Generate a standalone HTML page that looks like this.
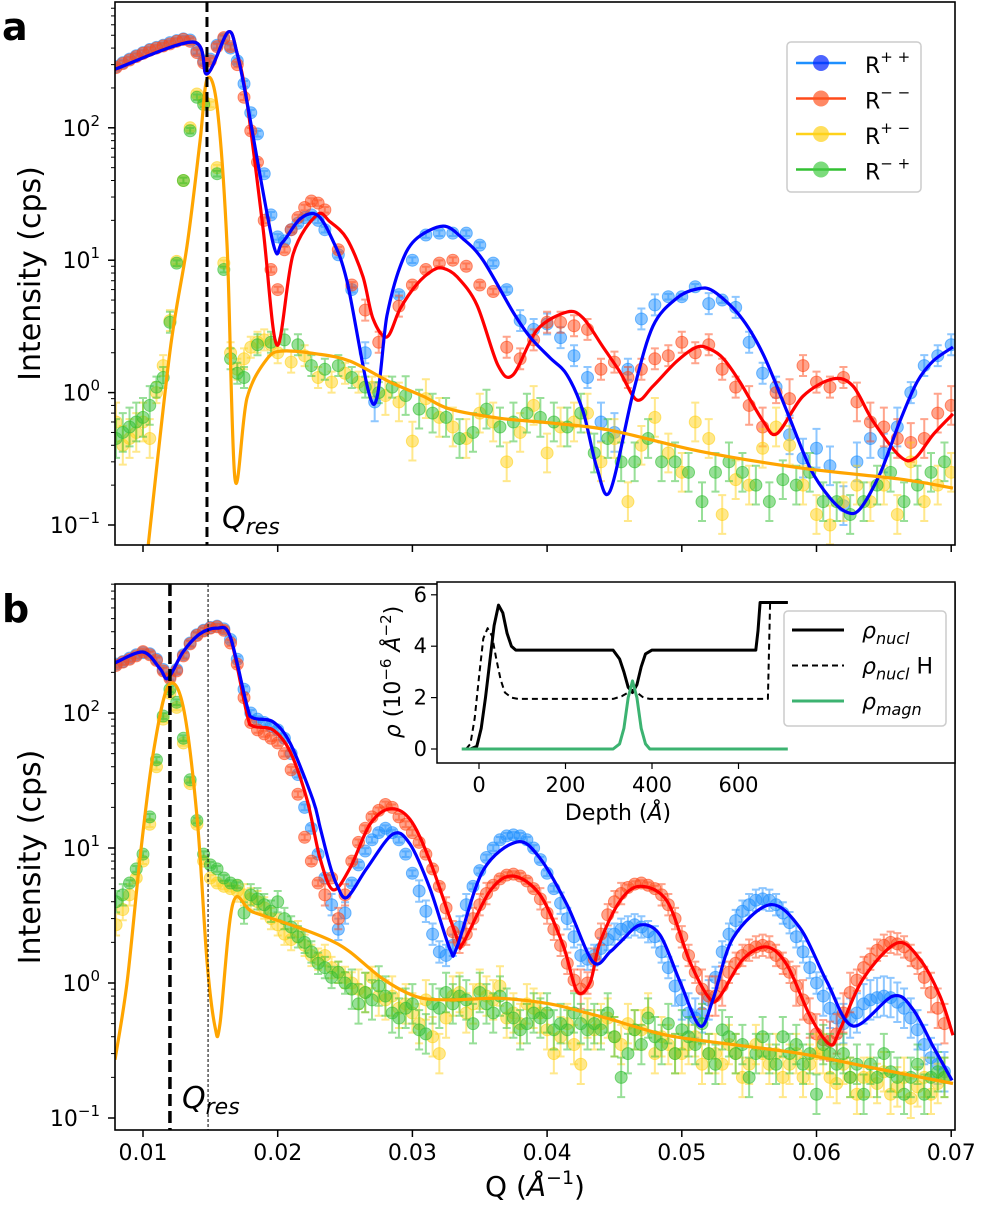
<!DOCTYPE html>
<html><head><meta charset="utf-8"><style>
html,body{margin:0;padding:0;background:#fff}
svg{display:block;font-family:"DejaVu Sans","Liberation Sans",sans-serif}
</style></head><body>
<svg id="fig" width="981" height="1212" viewBox="0 0 981 1212" xmlns="http://www.w3.org/2000/svg">
<defs>
<clipPath id="clipA"><rect x="115" y="2" width="840" height="543"/></clipPath>
<clipPath id="clipB"><rect x="115" y="584" width="840" height="546"/></clipPath>
</defs>
<g id="root"></g>
</svg>
<script>
// ---------- PANEL A DATA ----------
const fitA_pp = [[0.00792,277],[0.01371,445],[0.01475,255],[0.01631,528],[0.01698,367],[0.01772,157],[0.01965,13.5],[0.02032,13.5],[0.02166,20.5],[0.02292,22],[0.02403,14.5],[0.02514,7.0],[0.02708,0.82],[0.02811,3.8],[0.02908,8.9],[0.03019,14.2],[0.03227,18.1],[0.03376,14.5],[0.03524,10.0],[0.03747,4.06],[0.03873,2.63],[0.04022,1.83],[0.04148,1.36],[0.04267,0.72],[0.04370,0.27],[0.04467,0.18],[0.04638,0.99],[0.04786,3.18],[0.04964,5.18],[0.05113,6.06],[0.05232,5.85],[0.05432,3.79],[0.05603,1.96],[0.05781,0.72],[0.05952,0.27],[0.06100,0.16],[0.06226,0.125],[0.06323,0.132],[0.06471,0.243],[0.06620,0.61],[0.06746,1.20],[0.06865,1.73],[0.07013,2.21]];
const fitA_mm = [[0.00792,277],[0.01371,445],[0.01475,255],[0.01631,528],[0.01698,367],[0.01772,157],[0.01891,17.5],[0.01995,2.28],[0.02114,11.1],[0.02292,22],[0.02388,19.5],[0.02514,14.5],[0.02633,7.5],[0.02708,3.6],[0.02811,2.63],[0.02908,4.28],[0.03034,6.6],[0.03153,8.4],[0.03227,8.7],[0.03331,7.5],[0.03479,4.6],[0.03635,1.61],[0.03747,1.36],[0.03925,2.97],[0.04148,4.06],[0.04267,3.66],[0.04415,2.21],[0.04541,1.43],[0.04667,0.88],[0.04786,1.12],[0.04964,1.73],[0.05113,2.21],[0.05209,2.13],[0.05306,1.82],[0.05432,1.20],[0.05603,0.61],[0.05707,0.49],[0.05900,0.94],[0.06122,1.27],[0.06271,1.12],[0.06419,0.61],[0.06620,0.33],[0.06731,0.32],[0.06865,0.48],[0.07013,0.69]];
const fitA_sf = [[0.01030,0.058],[0.01200,2.03],[0.01327,12.8],[0.01423,79],[0.01475,233],[0.01549,146],[0.01624,12.8],[0.01683,0.222],[0.01772,0.91],[0.01921,1.80],[0.02039,2.06],[0.02292,1.96],[0.02537,1.73],[0.02834,1.20],[0.03079,0.94],[0.03279,0.75],[0.03650,0.64],[0.04022,0.59],[0.04467,0.52],[0.05135,0.36],[0.05878,0.27],[0.06620,0.222],[0.07013,0.19]];
const dataA_pp = [[0.0080,290],[0.0085,310],[0.0090,330],[0.0095,350],[0.0100,370],[0.0105,390],[0.0110,405],[0.0115,420],[0.0120,440],[0.0125,455],[0.0130,470],[0.0135,460],[0.0140,380],[0.0145,320],[0.0150,330],[0.0155,420],[0.0160,470],[0.0165,400],[0.0170,320],[0.0175,215],[0.0180,130],[0.0185,90],[0.0190,45],[0.0195,22],[0.0200,15],[0.0205,14],[0.0210,17],[0.0215,19],[0.0220,21],[0.0225,22],[0.0230,20],[0.0235,17],[0.0245,11],[0.0255,6.0],[0.0265,2.0],[0.0272,0.85],[0.0290,5.5],[0.0300,10],[0.0310,15.5],[0.0320,16],[0.0330,16],[0.0340,16],[0.0350,13],[0.0360,9.5],[0.0370,6.0],[0.0380,3.5],[0.0390,3.0],[0.0400,3.3],[0.0410,2.6],[0.0420,1.9],[0.0430,1.3],[0.0440,0.6],[0.0450,0.5],[0.0460,1.5],[0.0470,3.6],[0.0480,4.6],[0.0490,5.3],[0.0500,5.3],[0.0510,6.3],[0.0520,4.7],[0.0530,5.0],[0.0540,4.4],[0.0550,2.4],[0.0560,1.4],[0.0570,1.1],[0.0580,0.48],[0.0590,0.32],[0.0600,0.38],[0.0610,0.28],[0.0620,0.14],[0.0630,0.3],[0.0640,0.45],[0.0650,0.35],[0.0660,0.55],[0.0670,1.0],[0.0680,1.6],[0.0690,1.9],[0.0700,2.3]];
const dataA_mm = [[0.0080,285],[0.0085,305],[0.0090,325],[0.0095,345],[0.0100,365],[0.0105,385],[0.0110,400],[0.0115,415],[0.0120,430],[0.0125,450],[0.0130,465],[0.0135,450],[0.0140,370],[0.0145,310],[0.0150,320],[0.0155,410],[0.0160,480],[0.0165,410],[0.0170,300],[0.0175,170],[0.0180,95],[0.0185,55],[0.0190,20],[0.0195,8.5],[0.0200,6],[0.0205,12],[0.0210,17],[0.0215,21],[0.0220,25],[0.0225,28],[0.0230,27],[0.0235,24],[0.0245,12],[0.0255,6.5],[0.0265,4.2],[0.0275,2.4],[0.0290,4.5],[0.0300,6.5],[0.0310,8.5],[0.0320,9.5],[0.0330,10],[0.0340,9],[0.0350,6.5],[0.0360,5.8],[0.0370,2.2],[0.0380,1.8],[0.0390,2.5],[0.0400,3.4],[0.0410,3.4],[0.0420,3.2],[0.0430,3.0],[0.0440,1.5],[0.0450,1.7],[0.0460,1.3],[0.0470,1.5],[0.0480,1.8],[0.0490,1.9],[0.0500,2.4],[0.0510,2.0],[0.0520,2.3],[0.0530,1.5],[0.0540,1.1],[0.0550,0.8],[0.0560,0.55],[0.0570,1.0],[0.0580,0.9],[0.0590,1.6],[0.0600,1.2],[0.0610,1.1],[0.0620,1.3],[0.0630,0.85],[0.0640,0.6],[0.0650,0.55],[0.0660,0.45],[0.0670,0.42],[0.0680,0.45],[0.0690,0.7],[0.0700,0.8]];
const dataA_pm = [[0.0080,0.6],[0.0085,0.4],[0.0090,0.45],[0.0095,0.5],[0.0100,0.6],[0.0105,0.45],[0.0110,1.0],[0.0115,1.6],[0.0120,3.5],[0.0125,9.8],[0.0130,40],[0.0135,100],[0.0140,180],[0.0145,160],[0.0150,150],[0.0155,50],[0.0160,9.5],[0.0165,2.0],[0.0170,1.5],[0.0175,1.8],[0.0180,2.2],[0.0185,2.4],[0.0190,2.5],[0.0195,2.3],[0.0200,2.0],[0.0210,1.7],[0.0220,1.9],[0.0230,1.3],[0.0240,1.2],[0.0250,1.4],[0.0260,1.2],[0.0270,1.1],[0.0280,0.95],[0.0290,0.85],[0.0300,0.43],[0.0310,0.9],[0.0320,0.65],[0.0330,0.55],[0.0340,0.45],[0.0350,0.7],[0.0360,0.6],[0.0370,0.3],[0.0380,0.5],[0.0390,0.8],[0.0400,0.35],[0.0410,0.55],[0.0420,0.6],[0.0430,0.7],[0.0440,0.3],[0.0450,0.45],[0.0460,0.15],[0.0470,0.4],[0.0480,0.65],[0.0490,0.35],[0.0500,0.25],[0.0510,0.6],[0.0520,0.45],[0.0530,0.12],[0.0540,0.22],[0.0550,0.2],[0.0560,0.38],[0.0570,0.55],[0.0580,0.4],[0.0590,0.2],[0.0600,0.12],[0.0610,0.1],[0.0620,0.15],[0.0630,0.2],[0.0640,0.15],[0.0650,0.2],[0.0660,0.12],[0.0670,0.3],[0.0680,0.15],[0.0690,0.2],[0.0700,0.25]];
const dataA_mp = [[0.0080,0.45],[0.0085,0.5],[0.0090,0.55],[0.0095,0.6],[0.0100,0.65],[0.0105,0.8],[0.0110,1.1],[0.0115,1.3],[0.0120,3.4],[0.0125,9.5],[0.0130,40],[0.0135,95],[0.0140,170],[0.0145,150],[0.0155,45],[0.0160,8.5],[0.0165,1.8],[0.0170,1.4],[0.0175,1.3],[0.0185,2.3],[0.0195,2.4],[0.0205,2.5],[0.0215,2.3],[0.0225,1.6],[0.0235,1.5],[0.0245,1.6],[0.0255,1.3],[0.0265,1.1],[0.0275,1.0],[0.0285,1.1],[0.0295,0.95],[0.0305,0.75],[0.0315,0.7],[0.0325,0.65],[0.0335,0.45],[0.0345,0.5],[0.0355,0.75],[0.0365,0.55],[0.0375,0.6],[0.0385,0.7],[0.0395,0.65],[0.0405,0.6],[0.0415,0.55],[0.0425,0.7],[0.0435,0.35],[0.0445,0.45],[0.0455,0.3],[0.0465,0.3],[0.0475,0.45],[0.0485,0.3],[0.0495,0.3],[0.0505,0.25],[0.0515,0.15],[0.0525,0.25],[0.0535,0.3],[0.0545,0.25],[0.0555,0.2],[0.0565,0.15],[0.0575,0.22],[0.0585,0.2],[0.0595,0.25],[0.0605,0.15],[0.0615,0.15],[0.0625,0.12],[0.0635,0.15],[0.0645,0.2],[0.0655,0.25],[0.0665,0.15],[0.0675,0.2],[0.0685,0.25],[0.0695,0.3]];

// ---------- PANEL B DATA ----------
const fitB_pp = [[0.00792,235],[0.0100,283],[0.01126,213],[0.01186,181],[0.01297,283],[0.01423,386],[0.01549,425],[0.01646,372],[0.01772,113],[0.01817,92],[0.01965,86],[0.02091,60],[0.02262,22.7],[0.02314,14.3],[0.02388,7.4],[0.02440,5.3],[0.02514,4.3],[0.02663,7.1],[0.02856,12.7],[0.02982,10.7],[0.03131,5.0],[0.03279,1.78],[0.03331,1.85],[0.03524,6.8],[0.03777,11.1],[0.03947,8.4],[0.04148,3.8],[0.04341,1.43],[0.04467,1.70],[0.04541,2.0],[0.04690,2.69],[0.04838,2.27],[0.04987,1.02],[0.05135,0.48],[0.05232,0.76],[0.05380,2.15],[0.05655,3.8],[0.05878,2.55],[0.06078,1.02],[0.06271,0.48],[0.06568,0.80],[0.06716,0.64],[0.06865,0.34],[0.07006,0.19]];
const fitB_mm = [[0.00792,235],[0.0100,283],[0.01126,213],[0.01186,181],[0.01297,283],[0.01423,386],[0.01549,425],[0.01646,372],[0.01772,98],[0.01817,80],[0.01965,75],[0.02091,52],[0.02218,22.7],[0.02314,8.4],[0.02411,4.9],[0.02537,7.1],[0.02685,15],[0.02834,19.5],[0.02982,16.3],[0.03131,8.0],[0.03331,2.15],[0.03376,1.98],[0.03576,4.8],[0.03747,6.2],[0.03947,4.5],[0.04118,1.91],[0.04222,0.87],[0.04318,1.0],[0.04393,2.0],[0.04541,4.05],[0.04690,5.2],[0.04890,4.05],[0.05061,1.43],[0.05209,0.76],[0.05284,0.8],[0.05454,1.5],[0.05632,1.85],[0.05781,1.36],[0.05952,0.57],[0.06100,0.35],[0.06174,0.45],[0.06345,1.07],[0.06598,1.98],[0.06768,1.5],[0.06917,0.8],[0.07013,0.41]];
const fitB_sf = [[0.00792,0.27],[0.00881,1.0],[0.00978,8.4],[0.01074,49],[0.01186,158],[0.01297,113],[0.01401,17],[0.01475,1.45],[0.01535,0.47],[0.01572,0.50],[0.01668,3.9],[0.01817,3.35],[0.02166,2.55],[0.02388,2.08],[0.02537,1.70],[0.02782,1.07],[0.03034,0.79],[0.03279,0.75],[0.03650,0.77],[0.04022,0.70],[0.04267,0.61],[0.04467,0.54],[0.04890,0.41],[0.05380,0.35],[0.05878,0.30],[0.06375,0.24],[0.07013,0.18]];
const dataB_pp = [[0.0080,230],[0.0085,240],[0.0090,255],[0.0095,270],[0.0100,280],[0.0105,275],[0.0110,250],[0.0115,210],[0.0120,185],[0.0125,210],[0.0130,270],[0.0135,330],[0.0140,380],[0.0145,410],[0.0150,430],[0.0155,440],[0.0160,420],[0.0165,350],[0.0170,250],[0.0175,150],[0.0180,100],[0.0185,90],[0.0190,85],[0.0195,80],[0.0200,75],[0.0205,65],[0.0210,50],[0.0215,35],[0.0220,20],[0.0225,14],[0.0230,9],[0.0235,6],[0.0240,3.8],[0.0245,2.5],[0.0250,3.3],[0.0255,5.5],[0.0260,7.5],[0.0265,9.5],[0.0270,11.5],[0.0275,13],[0.0280,14],[0.0285,13],[0.0290,11.5],[0.0295,9],[0.0300,6.5],[0.0305,4.8],[0.0310,3.4],[0.0315,2.3],[0.0320,1.7],[0.0325,1.6],[0.0330,1.9],[0.0335,2.6],[0.0340,3.8],[0.0345,5.2],[0.0350,6.8],[0.0355,8.5],[0.0360,10],[0.0365,11.5],[0.0370,12.3],[0.0375,12.5],[0.0380,12.3],[0.0385,11.5],[0.0390,10],[0.0395,8.2],[0.0400,6.5],[0.0405,5],[0.0410,3.9],[0.0415,3.0],[0.0420,2.2],[0.0425,1.6],[0.0430,1.5],[0.0435,1.6],[0.0440,1.8],[0.0445,2.1],[0.0450,2.3],[0.0455,2.5],[0.0460,2.6],[0.0465,2.7],[0.0470,2.6],[0.0475,2.4],[0.0480,2.2],[0.0485,1.7],[0.0490,1.3],[0.0495,0.95],[0.0500,0.75],[0.0505,0.6],[0.0510,0.55],[0.0515,0.6],[0.0520,0.75],[0.0525,1.1],[0.0530,1.7],[0.0535,2.3],[0.0540,2.9],[0.0545,3.4],[0.0550,3.8],[0.0555,4.1],[0.0560,4.2],[0.0565,4.1],[0.0570,3.8],[0.0575,3.3],[0.0580,2.8],[0.0585,2.2],[0.0590,1.7],[0.0595,1.3],[0.0600,1.0],[0.0605,0.8],[0.0610,0.65],[0.0615,0.55],[0.0620,0.5],[0.0625,0.55],[0.0630,0.6],[0.0635,0.7],[0.0640,0.75],[0.0645,0.78],[0.0650,0.8],[0.0655,0.78],[0.0660,0.72],[0.0665,0.65],[0.0670,0.55],[0.0675,0.45],[0.0680,0.35],[0.0685,0.28],[0.0690,0.25],[0.0695,0.22]];
const dataB_mm = [[0.0080,225],[0.0085,238],[0.0090,250],[0.0095,265],[0.0100,285],[0.0105,270],[0.0110,245],[0.0115,205],[0.0120,180],[0.0125,205],[0.0130,265],[0.0135,325],[0.0140,375],[0.0145,405],[0.0150,425],[0.0155,435],[0.0160,410],[0.0165,330],[0.0170,230],[0.0175,130],[0.0180,85],[0.0185,75],[0.0190,70],[0.0195,65],[0.0200,60],[0.0205,50],[0.0210,38],[0.0215,25],[0.0220,12],[0.0225,8],[0.0230,5.5],[0.0235,4.5],[0.0240,6],[0.0245,3.0],[0.0250,4.5],[0.0255,8],[0.0260,11],[0.0265,14],[0.0270,17],[0.0275,19],[0.0280,21],[0.0285,20],[0.0290,17],[0.0295,15],[0.0300,13],[0.0305,11],[0.0310,9],[0.0315,7],[0.0320,5.2],[0.0325,3.6],[0.0330,2.4],[0.0335,2.0],[0.0340,2.3],[0.0345,3.0],[0.0350,3.8],[0.0355,4.6],[0.0360,5.3],[0.0365,5.9],[0.0370,6.3],[0.0375,6.4],[0.0380,6.2],[0.0385,5.7],[0.0390,5.0],[0.0395,4.2],[0.0400,3.3],[0.0405,2.5],[0.0410,1.9],[0.0415,1.4],[0.0420,1.05],[0.0425,0.9],[0.0430,1.0],[0.0435,1.5],[0.0440,2.3],[0.0445,3.2],[0.0450,4.0],[0.0455,4.6],[0.0460,5.1],[0.0465,5.4],[0.0470,5.5],[0.0475,5.3],[0.0480,5.0],[0.0485,4.5],[0.0490,3.8],[0.0495,3.0],[0.0500,2.2],[0.0505,1.6],[0.0510,1.2],[0.0515,0.9],[0.0520,0.8],[0.0525,0.8],[0.0530,0.95],[0.0535,1.2],[0.0540,1.4],[0.0545,1.6],[0.0550,1.75],[0.0555,1.85],[0.0560,1.9],[0.0565,1.85],[0.0570,1.6],[0.0575,1.4],[0.0580,1.2],[0.0585,0.95],[0.0590,0.75],[0.0595,0.55],[0.0600,0.42],[0.0605,0.38],[0.0610,0.37],[0.0615,0.42],[0.0620,0.6],[0.0625,0.85],[0.0630,1.05],[0.0635,1.3],[0.0640,1.5],[0.0645,1.75],[0.0650,1.9],[0.0655,2.0],[0.0660,1.95],[0.0665,1.85],[0.0670,1.6],[0.0675,1.4],[0.0680,1.1],[0.0685,0.85],[0.0690,0.65],[0.0695,0.5]];
const dataB_pm = [[0.0080,2.7],[0.0085,3.5],[0.0090,4.5],[0.0095,6],[0.0100,8],[0.0105,15],[0.0110,40],[0.0115,90],[0.0120,140],[0.0125,110],[0.0130,60],[0.0135,30],[0.0140,15],[0.0145,8],[0.0150,6],[0.0155,5.5],[0.0160,5.2],[0.0165,5],[0.0170,4.8],[0.0175,4.5],[0.0180,4.2],[0.0185,4.0],[0.0190,3.6],[0.0195,3.0],[0.0200,2.7],[0.0205,2.3],[0.0210,2.1],[0.0215,2.4],[0.0220,1.9],[0.0225,1.6],[0.0230,1.5],[0.0235,1.6],[0.0240,1.3],[0.0245,1.2],[0.0250,1.1],[0.0255,1.0],[0.0260,0.9],[0.0265,0.85],[0.0270,1.1],[0.0275,0.8],[0.0280,0.75],[0.0285,0.8],[0.0290,0.65],[0.0295,0.7],[0.0300,0.6],[0.0305,0.5],[0.0310,0.75],[0.0315,0.4],[0.0320,0.3],[0.0325,0.55],[0.0330,0.8],[0.0335,0.85],[0.0340,0.6],[0.0345,0.7],[0.0350,0.9],[0.0355,0.8],[0.0360,0.75],[0.0365,0.95],[0.0370,0.55],[0.0375,0.6],[0.0380,0.5],[0.0385,0.7],[0.0390,0.65],[0.0395,0.6],[0.0400,0.45],[0.0405,0.3],[0.0410,0.4],[0.0415,0.5],[0.0420,0.35],[0.0425,0.25],[0.0430,0.55],[0.0435,0.45],[0.0440,0.5],[0.0445,0.55],[0.0450,0.4],[0.0455,0.35],[0.0460,0.5],[0.0465,0.45],[0.0470,0.45],[0.0475,0.6],[0.0480,0.3],[0.0485,0.4],[0.0490,0.35],[0.0495,0.3],[0.0500,0.3],[0.0505,0.35],[0.0510,0.4],[0.0515,0.25],[0.0520,0.3],[0.0525,0.3],[0.0530,0.25],[0.0535,0.35],[0.0540,0.3],[0.0545,0.2],[0.0550,0.25],[0.0555,0.35],[0.0560,0.3],[0.0565,0.25],[0.0570,0.3],[0.0575,0.2],[0.0580,0.25],[0.0585,0.3],[0.0590,0.2],[0.0595,0.25],[0.0600,0.3],[0.0605,0.3],[0.0610,0.2],[0.0615,0.18],[0.0620,0.25],[0.0625,0.2],[0.0630,0.15],[0.0635,0.2],[0.0640,0.2],[0.0645,0.18],[0.0650,0.22],[0.0655,0.15],[0.0660,0.17],[0.0665,0.2],[0.0670,0.14],[0.0675,0.17],[0.0680,0.2],[0.0685,0.15],[0.0690,0.18],[0.0695,0.2]];
const dataB_mp = [[0.0080,4],[0.0085,4.5],[0.0090,5.5],[0.0095,7],[0.0100,9],[0.0105,17],[0.0110,45],[0.0115,95],[0.0120,150],[0.0125,120],[0.0130,65],[0.0135,32],[0.0140,16],[0.0145,9],[0.0150,7.5],[0.0155,7],[0.0160,6],[0.0165,5.5],[0.0170,5.3],[0.0175,3.3],[0.0180,4.5],[0.0185,4.2],[0.0190,3.8],[0.0195,3.4],[0.0200,4.0],[0.0205,3.0],[0.0210,2.6],[0.0215,2.2],[0.0220,2.0],[0.0225,1.7],[0.0230,1.4],[0.0235,1.3],[0.0240,1.1],[0.0245,1.2],[0.0250,1.0],[0.0255,0.9],[0.0260,0.7],[0.0265,0.85],[0.0270,0.75],[0.0275,0.95],[0.0280,0.8],[0.0285,0.6],[0.0290,0.55],[0.0295,0.65],[0.0300,0.7],[0.0305,0.45],[0.0310,0.42],[0.0315,0.7],[0.0320,0.65],[0.0325,0.85],[0.0330,0.7],[0.0335,0.8],[0.0340,0.75],[0.0345,0.5],[0.0350,0.85],[0.0355,0.7],[0.0360,0.6],[0.0365,0.8],[0.0370,0.65],[0.0375,0.55],[0.0380,0.45],[0.0385,0.5],[0.0390,0.6],[0.0395,0.55],[0.0400,0.6],[0.0405,0.45],[0.0410,0.5],[0.0415,0.45],[0.0420,0.6],[0.0425,0.5],[0.0430,0.45],[0.0435,0.5],[0.0440,0.45],[0.0445,0.6],[0.0450,0.4],[0.0455,0.2],[0.0460,0.3],[0.0465,0.45],[0.0470,0.35],[0.0475,0.55],[0.0480,0.4],[0.0485,0.35],[0.0490,0.5],[0.0495,0.3],[0.0500,0.45],[0.0505,0.4],[0.0510,0.35],[0.0515,0.5],[0.0520,0.3],[0.0525,0.25],[0.0530,0.45],[0.0535,0.4],[0.0540,0.3],[0.0545,0.35],[0.0550,0.2],[0.0555,0.3],[0.0560,0.4],[0.0565,0.3],[0.0570,0.25],[0.0575,0.4],[0.0580,0.3],[0.0585,0.35],[0.0590,0.25],[0.0595,0.3],[0.0600,0.15],[0.0605,0.35],[0.0610,0.3],[0.0615,0.25],[0.0620,0.3],[0.0625,0.2],[0.0630,0.25],[0.0635,0.15],[0.0640,0.25],[0.0645,0.2],[0.0650,0.3],[0.0655,0.22],[0.0660,0.2],[0.0665,0.15],[0.0670,0.2],[0.0675,0.25],[0.0680,0.15],[0.0685,0.2],[0.0690,0.22],[0.0695,0.2]];

// ---------- INSET DATA ----------
const insetNucl = [[-20,0],[-5,0.1],[5,0.8],[15,2.0],[25,3.4],[35,4.8],[45,5.6],[55,5.3],[65,4.5],[75,4.0],[85,3.85],[310,3.85],[325,3.5],[335,3.0],[345,2.4],[355,2.2],[365,2.5],[375,3.2],[385,3.7],[400,3.85],[640,3.85],[645,4.6],[650,5.7],[714,5.7]];
const insetNuclH = [[-30,0],[-20,0.2],[-10,1.2],[0,2.8],[10,4.3],[20,4.7],[30,4.4],[40,3.5],[50,2.7],[60,2.2],[75,2.0],[90,1.95],[310,1.95],[330,2.05],[345,2.2],[355,2.3],[365,2.2],[380,2.0],[395,1.95],[668,1.95],[673,5.7],[714,5.7]];
const insetMagn = [[-40,0],[310,0],[325,0.2],[335,0.8],[345,2.0],[355,2.65],[365,2.0],[375,0.8],[385,0.2],[395,0],[714,0]];

const xTicks = [0.01,0.02,0.03,0.04,0.05,0.06,0.07];
const xTickLabels = ["0.01","0.02","0.03","0.04","0.05","0.06","0.07"];
const yDecades = [-1,0,1,2];
const insetXTicks = [0,200,400,600];
const insetYTicks = [0,2,4,6];
const legendLabels = [["R","+ +"],["R","\u2212 \u2212"],["R","+ \u2212"],["R","\u2212 +"]];
const qresA = 0.01475, qresB = 0.0120, qresBthin = 0.01483;

const NS = "http://www.w3.org/2000/svg";
const root = document.getElementById('root');
function el(tag, attrs, parent){ const e=document.createElementNS(NS,tag); for(const k in attrs) e.setAttribute(k,attrs[k]); (parent||root).appendChild(e); return e; }

const X = q => 143 + 13470*(q-0.01);
const panels = {
  a:{top:2,bottom:545,y:v=>392.6-132.4*Math.log10(v)},
  b:{top:584,bottom:1130,y:v=>983-135*Math.log10(v)}
};
const COL = {pp:'#1e90ff',mm:'#ff4a1a',pm:'#ffd21a',mp:'#32c032'};

function smoothPath(pts){
  let d='M'+pts[0][0].toFixed(1)+','+pts[0][1].toFixed(1);
  for(let i=0;i<pts.length-1;i++){
    const p0=pts[i-1]||pts[i], p1=pts[i], p2=pts[i+1], p3=pts[i+2]||p2;
    const t=0.16;
    const c1=[p1[0]+(p2[0]-p0[0])*t, p1[1]+(p2[1]-p0[1])*t];
    const c2=[p2[0]-(p3[0]-p1[0])*t, p2[1]-(p3[1]-p1[1])*t];
    d+=`C${c1[0].toFixed(1)},${c1[1].toFixed(1)} ${c2[0].toFixed(1)},${c2[1].toFixed(1)} ${p2[0].toFixed(1)},${p2[1].toFixed(1)}`;
  }
  return d;
}
function polyPath(pts){ return pts.map((p,i)=>(i?'L':'M')+p[0].toFixed(1)+','+p[1].toFixed(1)).join(''); }

function drawData(P, arr, col, name, g){
  const sg = el('g',{},g);
  
  
  arr.forEach(([q,v])=>{
    const rel = v<1?0.4:(v<5?0.2:0.05);
    const x=X(q), y1=P.y(v*(1+rel)), y2=P.y(v/(1+rel)), y=P.y(v);
    const eb = el('path',{d:`M${x},${y1}V${y2}M${x-4},${y1}H${x+4}M${x-4},${y2}H${x+4}`,stroke:col,'stroke-width':2,'stroke-opacity':0.5,fill:'none'},sg);
    
    
    const c = el('circle',{cx:x,cy:y,r:6,fill:col,'fill-opacity':0.5,stroke:col,'stroke-opacity':0.6,'stroke-width':1},sg);
    
    
  });
}
function drawFit(P, arr, col, name, g, w){
  const pts = arr.map(([q,v])=>[X(q),P.y(v)]);
  const p = el('path',{d:smoothPath(pts),stroke:col,'stroke-width':w||3.2,fill:'none','stroke-linejoin':'round'},g);
  
  
}
function drawAxes(P, key, showLabels){
  const ax = el('g',{});
  
  
  xTicks.forEach((t,i)=>{
    el('line',{x1:X(t),x2:X(t),y1:P.bottom,y2:P.bottom+7,stroke:'#000','stroke-width':1.5},ax);
    if(showLabels){
      const tx = el('text',{x:X(t),y:P.bottom+30,'font-size':22,'text-anchor':'middle'},ax);
      tx.textContent = xTickLabels[i];
      
      
    }
  });
  yDecades.forEach(d=>{
    const y=P.y(Math.pow(10,d));
    if(y>=P.top-1 && y<=P.bottom+1) el('line',{x1:108,x2:115,y1:y,y2:y,stroke:'#000','stroke-width':1.5},ax);
    const t = el('text',{x:100,y:y+8,'font-size':22,'text-anchor':'end'},ax);
    
    
    t.innerHTML = `10<tspan dy="-10" font-size="15">${d<0?'\u2212'+(-d):d}</tspan>`;
    for(let m=2;m<=9;m++){
      const ym=P.y(m*Math.pow(10,d));
      if(ym>P.top && ym<P.bottom) el('line',{x1:111,x2:115,y1:ym,y2:ym,stroke:'#000','stroke-width':1},ax);
    }
  });
  const fr = el('rect',{x:115,y:P.top,width:840,height:P.bottom-P.top,fill:'none',stroke:'#000','stroke-width':1.6},ax);
  
  
  const yl = el('text',{x:0,y:0,'font-size':30,'text-anchor':'middle',transform:`translate(40,${(P.top+P.bottom)/2}) rotate(-90)`},ax);
  yl.textContent='Intensity (cps)';
  
  
}

// ----- Panel A -----
(function(){
  const P=panels.a;
  const g = el('g',{'clip-path':'url(#clipA)'});
  
  
  drawData(P,dataA_pp,COL.pp,'a-data-rpp',g);
  drawData(P,dataA_mm,COL.mm,'a-data-rmm',g);
  drawData(P,dataA_pm,COL.pm,'a-data-rpm',g);
  drawData(P,dataA_mp,COL.mp,'a-data-rmp',g);
  drawFit(P,fitA_mm,'#ff0000','a-fit-rmm',g);
  drawFit(P,fitA_pp,'#0000ff','a-fit-rpp',g);
  drawFit(P,fitA_sf,'#ffa500','a-fit-spinflip',g);
  const ql = el('line',{x1:X(qresA),x2:X(qresA),y1:P.top,y2:P.bottom,stroke:'#000','stroke-width':3,'stroke-dasharray':'10,5'},g);
  
  
  drawAxes(P,'a',false);
  const qt = el('text',{x:222,y:528,'font-size':30,'font-style':'italic'});
  qt.innerHTML='Q<tspan dy="6" font-size="22">res</tspan>';
  
  
  const lbl = el('text',{x:2,y:40,'font-size':38,'font-weight':'bold'});
  lbl.textContent='a';
  
  
  const lg = el('g',{});
  
  
  el('rect',{x:787,y:42,width:134,height:150,rx:4,fill:'#fff','fill-opacity':0.85,stroke:'#ccc','stroke-width':1.5},lg);
  const lc=[['#0022ff',COL.pp],['#ff5522',COL.mm],['#ffd21a',COL.pm],['#44cc44',COL.mp]];
  legendLabels.forEach((L,i)=>{
    const y=63+i*35.5;
    const e = el('g',{},lg);
    
    
    el('line',{x1:796,x2:846,y1:y,y2:y,stroke:lc[i][1],'stroke-width':2.5},e);
    el('circle',{cx:821,cy:y,r:8,fill:lc[i][0],'fill-opacity':0.7},e);
    const t=el('text',{x:865,y:y+10,'font-size':22},e);
    t.innerHTML=`${L[0]}<tspan dy="-11" font-size="15">${L[1]}</tspan>`;
  });
})();

// ----- Panel B -----
(function(){
  const P=panels.b;
  const g = el('g',{'clip-path':'url(#clipB)'});
  
  
  drawData(P,dataB_pp,COL.pp,'b-data-rpp',g);
  drawData(P,dataB_mm,COL.mm,'b-data-rmm',g);
  drawData(P,dataB_pm,COL.pm,'b-data-rpm',g);
  drawData(P,dataB_mp,COL.mp,'b-data-rmp',g);
  drawFit(P,fitB_mm,'#ff0000','b-fit-rmm',g);
  drawFit(P,fitB_pp,'#0000ff','b-fit-rpp',g);
  drawFit(P,fitB_sf,'#ffa500','b-fit-spinflip',g);
  const ql = el('line',{x1:X(qresB),x2:X(qresB),y1:P.top,y2:P.bottom,stroke:'#000','stroke-width':3.5,'stroke-dasharray':'12,5'},g);
  
  
  const ql2 = el('line',{x1:X(qresBthin),x2:X(qresBthin),y1:P.top,y2:P.bottom,stroke:'#000','stroke-width':1,'stroke-dasharray':'3,2'},g);
  
  
  drawAxes(P,'b',true);
  const qt = el('text',{x:182,y:1108,'font-size':30,'font-style':'italic'});
  qt.innerHTML='Q<tspan dy="6" font-size="22">res</tspan>';
  
  
  const lbl = el('text',{x:2,y:622,'font-size':38,'font-weight':'bold'});
  lbl.textContent='b';
  
  
  const xl = el('text',{x:535,y:1196,'font-size':28,'text-anchor':'middle'});
  xl.innerHTML='Q (<tspan font-style="italic">Å</tspan><tspan dy="-12" font-size="19">\u22121</tspan><tspan dy="12">)</tspan>';
  
  
})();

// ----- Inset -----
(function(){
  const IX = d => 479 + 0.4325*d;
  const IY = r => 749 - 25.7*r;
  const g = el('g',{});
  
  
  el('rect',{x:437,y:582,width:518,height:181,fill:'#fff'},g);
  const line = (arr,col,w,dash,name)=>{
    const p=el('path',{d:polyPath(arr.map(([x,r])=>[IX(x),IY(r)])),stroke:col,'stroke-width':w,fill:'none','stroke-linejoin':'round','stroke-dasharray':dash||'none'},g);
    
    
  };
  line(insetNuclH,'#000',2,'6,4','inset-rho-nucl-h');
  line(insetNucl,'#000',3,null,'inset-rho-nucl');
  line(insetMagn,'#3cb371',3,null,'inset-rho-magn');
  el('rect',{x:437,y:582,width:518,height:181,fill:'none',stroke:'#000','stroke-width':1.5},g);
  insetXTicks.forEach(t=>{
    el('line',{x1:IX(t),x2:IX(t),y1:763,y2:769,stroke:'#000','stroke-width':1.2},g);
    const tx=el('text',{x:IX(t),y:792,'font-size':21,'text-anchor':'middle'},g);
    tx.textContent=String(t);
    
    
  });
  insetYTicks.forEach(t=>{
    el('line',{x1:431,x2:437,y1:IY(t),y2:IY(t),stroke:'#000','stroke-width':1.2},g);
    const tx=el('text',{x:427,y:IY(t)+7,'font-size':21,'text-anchor':'end'},g);
    tx.textContent=String(t);
    
    
  });
  const xl=el('text',{x:618,y:820,'font-size':22,'text-anchor':'middle'},g);
  xl.innerHTML='Depth (<tspan font-style="italic">Å</tspan>)';
  
  
  const yl=el('text',{x:0,y:0,'font-size':22,'text-anchor':'middle',transform:'translate(400,672) rotate(-90)'},g);
  yl.innerHTML='<tspan font-style="italic">ρ</tspan> (10<tspan dy="-9" font-size="15">\u22126</tspan><tspan dy="9"> </tspan><tspan font-style="italic">Å</tspan><tspan dy="-9" font-size="15">\u22122</tspan><tspan dy="9">)</tspan>';
  
  
  const lg=el('g',{},g);
  
  
  el('rect',{x:784,y:611,width:162,height:115,rx:4,fill:'#fff',stroke:'#ccc','stroke-width':1.5},lg);
  const ent=[['#000',3,null,'nucl',''],['#000',2,'6,4','nucl',' H'],['#3cb371',3,null,'magn','']];
  ent.forEach((e,i)=>{
    const y=630+i*35.5;
    const eg=el('g',{},lg);
    
    
    el('line',{x1:792,x2:844,y1:y,y2:y,stroke:e[0],'stroke-width':e[1],'stroke-dasharray':e[2]||'none'},eg);
    const t=el('text',{x:862,y:y+8,'font-size':22},eg);
    t.innerHTML=`<tspan font-style="italic">ρ</tspan><tspan dy="6" font-size="16" font-style="italic">${e[3]}</tspan><tspan dy="-6">${e[4]}</tspan>`;
  });
})();
</script>
</body></html>
